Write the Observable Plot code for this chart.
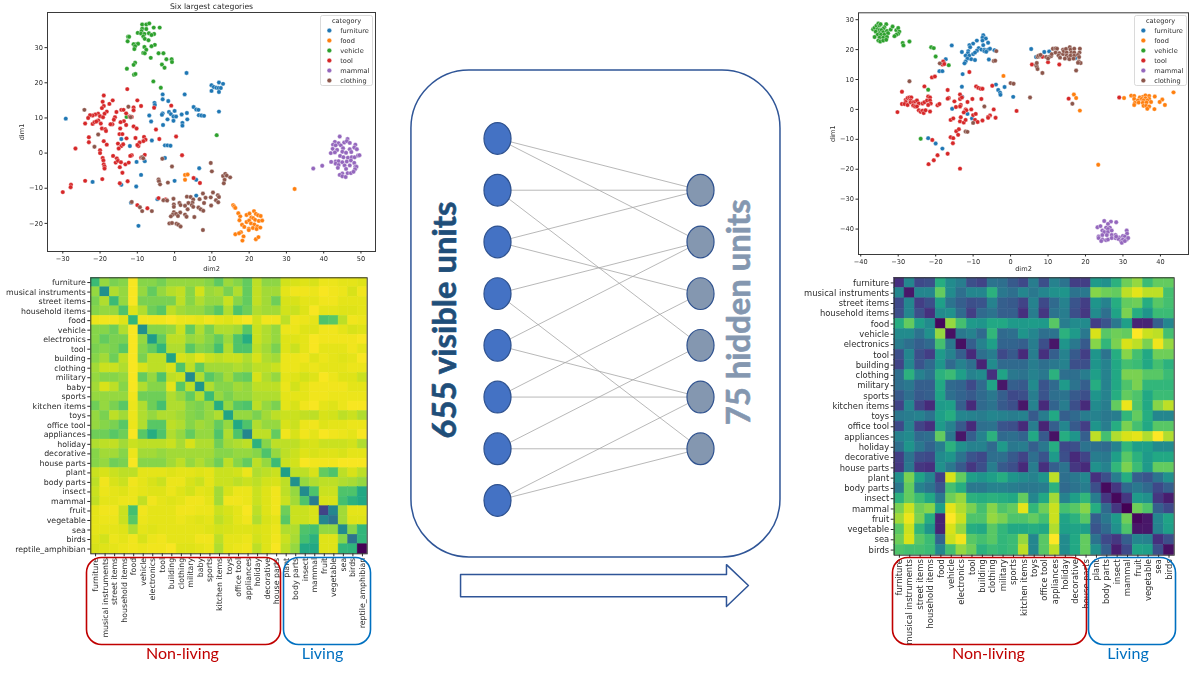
<!DOCTYPE html>
<html><head><meta charset="utf-8">
<style>
html,body{margin:0;padding:0;background:#fff;overflow:hidden}
#root{position:relative;width:1200px;height:673px;overflow:hidden}
#root svg{position:absolute;display:block;max-width:none}
.soft{filter:blur(.3px)}
</style>
<script src="https://cdn.jsdelivr.net/npm/d3@7"></script>
<script src="https://cdn.jsdelivr.net/npm/@observablehq/plot@0.6"></script>
</head><body><div id="root"></div>
<script>
const legendCats = ["furniture","food","vehicle","tool","mammal","clothing"];
const tab = ["#1f77b4","#ff7f0e","#2ca02c","#d62728","#9467bd","#8c564b"];

const leftFurniture=[[-29.2,9.8],[3.2,22.8],[2.7,16.7],[-3.2,16.7],[-3.2,15.3],[-1.7,14.8],[-5.4,14.3],[-5.3,13.7],[5.1,13.1],[5.8,12.4],[6.4,12.3],[11.9,11.8],[9.9,19.3],[10.5,18.8],[11.2,18.6],[11.8,18.5],[12.4,18.5],[11.9,20.1],[13,19.7],[9.9,17.7],[11.9,17.4],[0,12],[-1.5,11.7],[-1,11.1],[-3.2,11.3],[-3.4,10.9],[-.3,10.4],[.4,10.4],[-6.8,10.7],[1.9,11],[3.3,11.4],[3.4,9.6],[2.1,8.6],[2.1,7.8],[-.3,9.2],[-1.9,9.6],[-3.1,8],[-6.3,9],[6.5,10.8],[7.2,10.7],[7.9,10.6],[-6.1,3.6],[-14.3,4],[-12,2],[-2.6,2.2],[-1.9,2.2],[-1.1,2.1],[-2.6,-1.4],[-10.2,-2.5],[-8,-2.3],[-9,-6.2],[6.6,-4.3],[0,-7.9],[5.8,-7.6],[-10.3,-9.5],[-14.3,-9],[-22,-8.2],[-11.7,-14.1],[-4.6,-13.1],[5.8,-12.1],[-9.7,-20.7]];
const leftFood=[[2.8,-6.2],[3.5,-6.1],[2.8,-7.6],[32.2,-10.2],[15.7,-14.8],[16,-15.2],[16.3,-15.6],[17.1,-17.1],[17.6,-18],[19.3,-17.6],[20.1,-17.2],[21.3,-16.5],[21.8,-17.3],[22.4,-17.7],[23.1,-17.9],[20.6,-18.3],[21.1,-18.5],[21.6,-19],[22.6,-19.3],[23.5,-19.2],[17.4,-19.1],[18.1,-20.4],[19.3,-19.6],[20,-19.2],[20.5,-20],[21.4,-20.3],[22.2,-20.9],[18.7,-21],[19.9,-21.5],[21,-21.3],[22,-21.6],[23,-21.2],[17.8,-22.5],[18.5,-23.7],[16.3,-23.1],[17.3,-22.8],[18.2,-24.9],[21.8,-24.5],[22.5,-23.9],[19.9,-21.9]];
const leftVehicle=[[-8.7,36.6],[-7.6,36.6],[-6.8,36.9],[-8.7,35.4],[-7.6,35.3],[-5.6,35.7],[-4,35.7],[-8.9,34.7],[-9.9,34.2],[-9,34],[-8.1,33.9],[-6.9,34.1],[-5.5,33.9],[-6.2,33.6],[-8.4,33.2],[-8,32.5],[-7,32.1],[-12.5,33.1],[-12.2,33.1],[-12.6,31.8],[-10.3,31],[-11,31],[-9.8,31.1],[-10.6,30.4],[-8.1,30.2],[-5.3,30.8],[-6.2,30.4],[-7.6,29.4],[-10.8,29.6],[-8.4,28.5],[-8,28.4],[-6.4,27.1],[-4.3,28.4],[-3,28.4],[-2.2,26.7],[-.8,26.7],[-.7,25.9],[-3.4,25.2],[-2.7,24.3],[-12.8,24],[-10.6,25.7],[-11,25.1],[-10.9,22.3],[-10.5,22.5],[-5.7,20.4],[-3.7,18.6],[11.3,5.1],[-12.9,10.3]];
const leftTool=[[-12.7,18.2],[-19,16.4],[-19.3,14.6],[-17.5,14],[-16.6,15],[-10,15],[-19,13.4],[-11,13],[-11,12.2],[-9,13.4],[-5.5,12.9],[-.9,13.5],[-19.5,12.8],[-18.2,11.8],[-18.8,11.2],[-20.5,11.2],[-21.3,11],[-22,10.7],[-22.7,10.8],[-23.2,10],[-20,10.5],[-19.2,10.2],[-14.3,12.3],[-13.7,12.3],[-15.6,11.7],[-13,11.3],[-12,10.4],[-11.5,10.3],[-16,10.2],[-16.3,9.5],[-16.7,8.2],[-17.2,8.2],[-13.6,9.1],[-14.5,8.8],[-13,8],[-24,8.4],[-22,8.3],[-21.5,8.8],[-20.5,9.3],[-21,9],[-19.8,8.4],[-19.5,7],[-18.6,6.8],[-18.4,6.3],[-11,7.6],[-10.2,7],[-14.6,7],[-14.8,5.4],[-14,5.4],[-5,6.7],[.4,4.7],[-4.1,4],[-10.5,4.3],[-12.9,4.2],[-8.2,4.6],[-7.8,3.8],[-8.4,3.4],[-9.4,3],[-9.7,2],[-10,2.3],[-15.2,2.7],[-14.3,2],[-13.8,2.5],[-15,1.3],[-23,4.5],[-23,3.1],[-19,3.4],[-18.2,2.4],[-26.6,1.3],[-20,.8],[-20,0],[-19.3,-1.4],[-19.1,-2.1],[-19,-3.2],[-18.8,-3.8],[-18.8,-4.4],[-16.5,-.8],[-15.5,-1.5],[-15.8,-2.7],[-15.2,-2.2],[-14.4,-2.6],[-13.2,-3.2],[-12.3,-2.7],[-11.5,-.6],[-11.9,-.8],[-8,-.5],[-9,-1.3],[-14.7,-4],[-14,-5.6],[2,-.6],[-24,-7.9],[-19.4,-7.4],[-12.6,-8],[-14.7,-8.6],[5.1,-7.1],[6.8,-8.5],[-27.8,-9],[-27.9,-9.7],[-30,-11.1],[-10,-14.8],[-7.3,-15.7],[-4.3,-12.8],[-2.4,-13.2]];
const leftMammal=[[37.2,-4.4],[39.6,-3.6],[44.3,4.7],[46.4,4],[43,3.2],[44,2.8],[45.5,3],[46.2,3.4],[42.5,2.4],[43.2,2.2],[44.6,2.2],[47,2.9],[48.5,2.4],[42.4,1.2],[43.6,.9],[45.2,1.4],[47,1.1],[48.2,1.6],[48.9,1.1],[41.9,0],[43,.2],[45,.4],[46,.1],[47.4,.3],[44.4,-.8],[45.3,-1.2],[46.5,-1.3],[47.5,-1.2],[48.3,-1.2],[49.2,-.7],[49.6,-.6],[43.2,-2.4],[44,-2.3],[45,-2.6],[46.2,-2.4],[47.3,-2.1],[48.2,-2.8],[42,-2.5],[43.2,-3],[44,-3.4],[45.6,-3.5],[47,-3.5],[48.5,-3.8],[48.8,-3.9],[43.8,-4.2],[46,-4.5],[48.4,-4.6],[45,-5.8],[44.3,-6.2],[45,-6.6],[45.9,-6.8],[46.4,-5.7],[47.3,-5.7],[48,-5.3]];
const leftClothing=[[-24.2,12.3],[-12.4,13.2],[-11.8,10.2],[-20.5,5.3],[-21.5,1.8],[-8.7,-1.2],[-8.4,-1.5],[-3.3,-1.6],[-.7,-3.8],[9.7,-2.8],[10,-5.2],[13,-6.5],[13.6,-5.9],[14,-6.4],[14.9,-6.9],[13.4,-7.6],[13.2,-8.6],[-4.3,-7.5],[-4.2,-8],[-3.9,-8.9],[-1.8,-8.4],[-11.5,-13.9],[-9.3,-15.4],[-8.7,-16.5],[-6.1,-16.5],[-3,-13.4],[-2,-13.5],[-.3,-13],[3.3,-12.4],[4.3,-12.5],[7.6,-11.5],[10.3,-11.2],[11.6,-12],[11.9,-12.5],[9.7,-12.6],[8.3,-12.7],[6.7,-13.1],[5,-13.2],[4.8,-14.1],[3.7,-14.2],[1.3,-14.2],[1.6,-14.8],[-.2,-14.6],[-.2,-15.3],[2.8,-15],[4.6,-14.8],[11.1,-13.4],[11.7,-14],[9.8,-14.9],[7.9,-14.2],[6.4,-15.5],[5,-15.3],[3.5,-16],[2.8,-17.5],[1.5,-16.9],[-.2,-16.8],[-.5,-17.5],[-1,-18],[.4,-17.3],[7,-16],[7.7,-16.4],[5.3,-18.2],[3.2,-18.1],[.9,-17.9],[-1.4,-20],[-.7,-19.9],[.5,-20.1],[1,-20.4],[1.6,-20.9],[7.6,-21.9]];

const rightFurniture=[[-15.7,21.4],[5.5,20.2],[9,19.2],[10.3,19.4],[6.8,17.5],[17.3,17.2],[-17.3,16.8],[-17.8,15.8],[-19,12.8],[-18.2,12.8],[-12.8,11.8],[-13,7.6],[-12.9,4.2],[-15.6,.2],[-11.5,-1.5],[-10.3,-3],[-3.9,8.3],[-1.6,7.5],[-3.3,6.5],[-2.8,5.6],[-2.7,4.9],[.7,4.2],[-22,-9.6],[-20,-11.4],[-18.2,-13.1],[-7.3,24.8],[-7.5,24],[-6.6,23.7],[-7.5,23],[-9,23],[-10,22],[-11,21.5],[-6,22.3],[-10.8,20.8],[-7.3,21.5],[-8.5,20.5],[-7.8,20],[-7,20],[-6,20],[-5.5,20.3],[-4.3,19.8],[-9,19.6],[-13,19.2],[-11.3,19.5],[-11.4,18.8],[-7,19.5],[-6.5,19.3],[-12,18],[-11,18],[-10,18.5],[-9.5,19],[-11.5,17],[-10.5,16.8],[-9.5,16.5],[-12,16],[-12.3,15.4],[-5.8,16.7]];
const rightFood=[[43.5,5.7],[32.2,4.6],[33,4.5],[30.3,3.8],[35.3,4.2],[36,4.7],[37,4.5],[38.5,4.3],[34.5,4],[35,3.5],[36,3.7],[37,3.5],[33,3.5],[34,3],[35.5,3],[36.5,3],[40.5,3.3],[39.8,2.5],[33.2,2.2],[34.2,2.3],[35.3,2.2],[36.3,2.3],[37.5,2.5],[41.2,1.5],[33,1.5],[35.5,1.2],[36.2,1.2],[37,1],[36.5,.2],[38.4,.1],[-1.9,11.2],[16.9,5],[17.5,3.8],[18.5,-.4],[23.4,-18.5]];
const rightVehicle=[[-36.7,26.8],[-36.3,27.3],[-35.8,28],[-35.3,28.7],[-35,28],[-34.7,28.5],[-33.2,28.5],[-33.7,27.5],[-34,27],[-35.5,26.8],[-35,26.5],[-34.5,26.5],[-36,26],[-35,25.5],[-34,25.8],[-33,26.2],[-35.5,25],[-34.6,25],[-33.7,25],[-32.7,25.5],[-36.3,24.2],[-35,24],[-34,24],[-33,24.2],[-35.3,23],[-34.8,22.7],[-34,23],[-33.2,23.3],[-32,26.7],[-31.5,27.7],[-30.5,26.5],[-30,27.2],[-29.7,26],[-30,25.3],[-30.5,25],[-31,24.5],[-28.8,22.2],[-28.6,21.4],[-27,22.7],[-21.2,20.8],[-20.5,20.5],[-20,17.7],[-18,15.8],[-16.5,14.8],[-22,6.6],[-24,-9.8]];
const rightTool=[[-18,16],[-18.2,15],[-17.7,15.2],[-21,10.7],[-20.2,11],[-11,12.5],[-29,5.9],[-23,7.7],[-16.8,6.5],[-4.9,7.9],[-9.2,7.7],[-8.6,7.2],[-8,6.9],[-7.5,6.9],[-28,3.2],[-27.5,3.8],[-27,4],[-26.5,4],[-26.7,3],[-28,2.5],[-29,1.8],[-28.3,1.8],[-27.5,1.5],[-26.7,2.4],[-26,2.4],[-25.5,2.6],[-25,3],[-24.5,2],[-23.5,2],[-23,2.4],[-22.3,3],[-22,4.3],[-21.5,4],[-21.5,3],[-21.3,2],[-26,1.3],[-25.5,1],[-25,1],[-22,1.5],[-19.5,1.4],[-19,1.8],[-30.2,-.9],[-24.5,-.3],[-24,-.8],[-23.5,-.4],[-23.2,-1.2],[-22.7,-.3],[-21.5,-.7],[-16.5,3.8],[-16.8,3.6],[-15,2.7],[-13.5,3.5],[-13.5,5],[-13,4],[-11.5,2.5],[-10.2,3.5],[-7.8,3.5],[-13.3,1.5],[-13.5,1],[-14.6,.8],[-12,0],[-10.5,0],[-11.8,-.3],[-4.5,0],[-4,-2.8],[-5.5,-2],[-6,-2.5],[-6,-2.8],[1.6,-.5],[29,4],[15.5,3.6],[13,15],[5.7,15],[8.5,17.6],[10,15.8],[-16,-3.5],[-15.3,-3],[-13.3,-2.6],[-13.5,-4],[-12.5,-1],[-12.5,-4.4],[-10,-1.9],[-9.3,-1.5],[-9.5,-3.5],[-8.8,-4.2],[-7.5,-3.7],[-12,-3.5],[-14.5,-7.3],[-13.8,-6.6],[-14,-8.5],[-16,-9.3],[-15.3,-9.6],[-15.4,-11.3],[-16.8,-14.8],[-19.5,-15.3],[-20.5,-17],[-21.9,-18.3],[-20.9,-10.2],[-13.5,-19.8]];
const rightMammal=[[25,-37.3],[28.2,-37.7],[26.8,-37.5],[26,-38.3],[23.2,-39.4],[24,-39],[25.5,-39.5],[26.5,-39.5],[26,-40],[24.5,-40.5],[25,-41],[26,-41],[27,-40.5],[23.5,-42.5],[24.5,-42],[25.7,-42],[27,-42],[28,-42],[29,-42.8],[30,-42.3],[31,-40.5],[31.1,-41.5],[30.5,-42.5],[23.5,-43],[24.5,-43.5],[24.2,-44],[25.5,-43.7],[26,-43.5],[27,-43],[28,-43],[28.8,-43.3],[29.5,-44],[30,-43.5],[31,-43.5],[31.4,-43],[29.7,-44.6],[30.5,-44],[28.2,-42.5]];
const rightClothing=[[-27,9.4],[-18.9,15.4],[-4.5,16.2],[-4.1,16.3],[-3.8,19.5],[0,8.8],[.8,8.6],[-7,1],[5.2,4],[16.5,1.9],[-10,-4.5],[-12,-7.4],[-11.5,-7.5],[17.5,13],[8.5,12.2],[6.8,14.8],[7,14.3],[7.2,13.5],[7,15.5],[7.5,17.7],[7.2,17.6],[7.5,18],[8,18.2],[9.5,17.5],[10.3,17.5],[10.8,17.8],[10,17],[11,18.5],[11.3,20.3],[12,20.4],[12.4,20.3],[12,19],[13,18.8],[12.8,18],[13.2,17.3],[14,18.5],[14,20],[14.2,19.5],[14.8,20.2],[15,19],[15,18],[14.5,17],[15.5,17.5],[15.8,20.8],[16,20],[16.2,19],[16,18],[15.7,16.8],[17,20.3],[17,19],[17,18],[16.8,17],[18.5,20.3],[18.4,19],[18,18.2],[18.3,17.5],[18.2,16],[18.7,15.5],[18,15.6]];

const leftCats=["furniture","musical instruments","street items","household items","food","vehicle","electronics","tool","building","clothing","military","baby","sports","kitchen items","toys","office tool","appliances","holiday","decorative","house parts","plant","body parts","insect","mammal","fruit","vegetable","sea","birds","reptile_amphibian"];
const rightCats=leftCats.filter(c=>c!=="baby"&&c!=="reptile_amphibian");

const leftMatrix=[
[68,84,80,82,99,82,82,79,84,84,84,84,82,75,85,82,76,90,83,83,93,94,95,94,97,97,96,96,95],
[84,50,88,84,99,84,76,84,89,91,82,93,85,87,80,88,76,91,86,86,96,98,98,97,99,98,97,94,98],
[80,88,68,84,99,80,80,80,80,90,82,88,84,84,92,82,76,91,86,78,94,94,96,96,98,98,96,96,96],
[82,84,84,72,95,88,78,74,90,86,84,84,80,74,88,72,78,88,86,86,93,92,95,99,96,96,95,95,96],
[97,98,98,95,66,98,98,98,99,97,97,96,98,96,95,97,99,93,98,98,90,98,97,96,72,74,90,98,97],
[82,82,78,88,99,50,82,82,84,92,76,88,80,88,88,86,74,92,88,84,97,97,95,95,98,98,96,94,95],
[82,76,80,80,99,84,55,76,90,90,84,86,82,76,85,72,62,92,88,84,95,95,96,99,98,98,98,98,99],
[80,82,80,74,99,82,76,66,88,88,74,82,80,70,88,72,72,90,86,80,95,92,96,99,96,96,96,98,96],
[82,86,78,90,99,80,90,90,58,94,92,96,92,90,92,92,88,94,88,86,97,97,98,95,97,96,95,96,99],
[86,92,92,88,99,94,90,90,94,72,90,76,86,86,86,88,86,90,90,92,97,97,96,97,96,96,96,97,97],
[84,82,82,84,99,76,84,72,90,92,48,88,74,80,86,78,76,94,88,84,96,95,93,95,99,97,95,95,92],
[86,94,90,82,99,88,82,82,96,74,90,52,88,82,82,86,84,90,90,90,97,93,96,98,98,98,98,96,96],
[84,84,84,84,98,78,78,78,88,84,76,88,68,84,80,84,84,88,88,88,96,96,96,98,98,97,97,97,97],
[78,84,80,74,97,88,78,70,88,88,82,80,84,62,84,74,72,90,84,80,96,94,98,99,96,95,97,99,99],
[84,80,90,86,97,88,84,88,88,86,82,80,84,88,58,84,84,80,86,90,92,92,91,90,94,93,90,92,88],
[84,82,80,74,97,88,74,74,90,88,82,86,84,76,84,60,72,88,84,84,94,92,97,98,95,96,96,97,97],
[78,78,74,78,99,74,62,72,88,84,76,84,84,72,88,72,46,90,90,76,98,94,98,96,99,98,97,96,99],
[88,90,91,86,92,90,90,90,92,87,94,88,88,78,86,88,90,64,82,90,90,90,93,94,92,92,92,93,88],
[82,86,86,82,97,86,86,84,86,86,86,86,86,82,82,84,84,82,72,84,90,92,95,94,95,95,94,96,96],
[82,84,78,80,99,82,82,82,86,90,84,88,84,78,90,82,76,90,84,68,92,93,99,98,98,98,99,99,99],
[92,94,92,90,90,96,96,96,95,96,96,95,96,92,92,93,97,88,90,92,56,90,90,94,76,72,90,94,90],
[90,98,94,92,98,96,94,92,97,97,94,92,96,92,92,90,92,90,93,94,90,50,84,88,90,90,88,87,84],
[92,97,96,95,97,96,95,95,97,95,93,96,95,86,94,97,97,92,95,98,90,84,48,72,92,92,72,72,60],
[91,96,96,97,97,91,98,96,95,96,98,98,96,86,98,98,97,92,95,98,92,86,72,42,94,94,70,64,60],
[96,98,98,92,70,98,96,96,96,98,98,97,97,92,94,96,99,90,95,98,78,92,92,94,20,46,86,96,96],
[96,97,97,92,74,97,96,96,96,97,96,95,96,90,93,96,98,88,94,96,74,92,92,94,46,38,86,95,95],
[96,96,96,95,88,96,95,96,96,96,96,96,95,93,94,95,95,94,95,97,88,88,72,70,84,84,48,82,66],
[95,93,97,96,98,94,97,98,96,96,96,98,98,90,96,96,97,93,95,98,92,87,70,64,95,95,82,38,66],
[94,95,96,97,98,97,98,98,99,95,95,96,97,88,96,97,98,90,95,99,90,84,60,60,95,95,66,65,0]];

const rightMatrix=[
[14,46,22,24,62,48,42,24,20,38,36,28,22,42,24,44,38,18,18,54,50,64,78,84,68,76,76],
[46,6,46,46,76,48,36,46,46,64,40,36,46,40,46,50,52,38,40,82,78,76,90,96,90,90,70],
[22,46,18,24,56,38,30,24,26,44,30,28,20,44,22,34,44,26,18,52,44,62,76,78,62,74,70],
[24,46,24,14,48,50,34,18,34,38,30,30,14,42,16,38,42,24,16,48,36,58,80,62,52,68,68],
[62,76,56,48,2,84,70,54,52,60,60,54,54,55,54,74,42,48,48,18,26,40,56,10,10,30,46],
[48,48,38,50,84,4,40,44,34,66,34,36,52,46,36,38,64,54,40,94,74,78,76,100,92,90,70],
[42,36,30,34,70,40,4,30,44,56,32,32,30,42,24,6,52,40,28,82,66,80,94,90,80,98,84],
[24,46,24,18,54,44,30,12,36,42,22,28,12,42,14,30,44,28,18,52,38,62,82,70,60,78,78],
[20,46,26,34,52,34,44,36,10,48,34,34,34,42,36,40,44,24,24,52,44,60,70,68,60,70,64],
[36,64,44,38,64,68,56,44,48,14,58,40,38,44,40,64,36,36,42,56,44,60,80,80,74,74,68],
[36,40,30,30,60,34,32,22,34,58,6,30,28,48,26,34,54,38,30,62,44,60,72,80,66,66,66],
[28,36,28,30,58,36,32,28,34,40,30,22,24,42,26,36,38,28,24,52,44,62,76,72,60,68,68],
[20,46,20,12,54,56,30,12,34,38,28,24,6,44,12,32,42,24,12,48,42,76,97,72,60,82,90],
[40,42,44,38,56,62,46,44,42,46,44,42,44,28,42,60,30,34,42,44,40,42,66,76,62,46,46],
[22,44,20,14,54,44,28,12,36,38,26,24,12,42,10,30,46,28,18,52,42,62,80,70,60,74,74],
[44,48,34,36,76,40,6,30,44,64,34,36,32,60,28,5,62,52,30,90,70,88,94,96,88,100,88],
[36,52,40,32,42,64,50,44,44,34,54,40,42,30,40,62,22,24,38,36,34,44,66,56,56,48,48],
[18,38,24,22,48,52,38,26,22,36,36,28,20,36,26,54,24,12,20,42,40,56,74,64,54,60,60],
[16,40,16,14,50,40,28,16,24,42,28,24,12,42,14,30,38,16,12,50,44,66,80,68,54,76,76],
[50,80,58,46,18,94,76,56,52,56,62,52,48,44,52,90,36,40,46,14,24,42,62,30,26,38,50],
[40,76,44,38,26,70,62,40,40,44,44,42,40,40,42,64,34,38,42,24,3,16,34,40,34,22,30],
[64,76,68,60,40,78,84,64,62,64,62,60,76,46,60,86,44,56,66,42,16,2,16,54,50,16,8],
[80,92,78,82,56,96,88,80,70,82,72,76,96,66,78,92,70,74,82,62,34,16,0,78,72,30,22],
[86,97,80,62,10,100,92,72,72,84,80,72,72,76,70,92,58,64,74,30,40,54,78,2,6,46,58],
[74,92,66,52,10,94,84,62,60,74,66,60,60,62,60,88,56,58,56,26,34,50,72,6,6,44,56],
[78,94,74,68,32,92,98,74,70,74,66,68,84,46,74,100,48,60,76,38,22,16,30,46,44,14,24],
[72,70,70,68,46,70,84,78,64,68,66,68,90,46,74,90,48,60,76,50,30,8,22,58,56,24,4]];

const visibleUnits=[0,1,2,3,4,5,6,7];
const hiddenUnits=[1,2,3,4,5,6];
const edges=[[0,1],[0,2],[1,1],[1,4],[2,1],[2,3],[3,2],[3,6],[4,2],[4,5],[5,3],[5,5],[6,4],[6,6],[7,5],[7,6]];

const root=document.getElementById("root");
const ink="#2b2b2b";
function place(chart,left,top,soft=true){
  chart.style.left=left+"px";chart.style.top=top+"px";
  if(soft)chart.classList.add("soft");
  root.appendChild(chart);
}
const baseStyle=(fs,font="'DejaVu Sans',sans-serif")=>({background:"transparent",overflow:"visible",fontFamily:font,fontSize:fs+"px",color:ink});

function scatter(groups,o){
  const rows=groups.flatMap((g,i)=>g.map(([x,y])=>({x,y,c:legendCats[i]})));
  const marks=[
    Plot.dot(rows,{x:"x",y:"y",fill:"c",stroke:"white",strokeWidth:.35,r:2.2}),
    Plot.frame({stroke:"#3a3a3a",strokeWidth:1}),
    Plot.axisX({ticks:o.xTicks,tickSize:2.5,tickPadding:2,label:"dim2",labelAnchor:"center",labelOffset:o.xLabelOffset,labelArrow:"none",fontSize:o.fs}),
    Plot.axisY({ticks:o.yTicks,tickSize:2.5,tickPadding:2,label:"dim1",labelAnchor:"center",labelOffset:o.labelOffset,labelArrow:"none",fontSize:o.fs})
  ];
  if(o.title)marks.push(Plot.text([o.title],{frameAnchor:"top",dy:-9,fontSize:7.7,fill:ink}));
  return Plot.plot({width:o.w,height:o.h,marginLeft:o.ml,marginRight:o.mr,marginTop:o.mt,marginBottom:o.mb,
    style:baseStyle(o.fs),
    x:{domain:o.xd},y:{domain:o.yd},
    color:{domain:legendCats,range:tab},marks});
}
function legendBox(){
  const names=["category",...legendCats];
  return Plot.plot({width:52,height:70,margin:0,style:baseStyle(6.6),
    x:{domain:[0,1],axis:null},y:{domain:names,type:"point",padding:.5,axis:null},
    color:{domain:legendCats,range:tab},
    marks:[
      Plot.frame({stroke:"#d0d0d0",fill:"white",strokeWidth:.8,rx:2}),
      Plot.text(["category"],{x:()=>.5,y:d=>d,fontSize:6.6,fill:ink}),
      Plot.dot(legendCats,{x:()=>.17,y:d=>d,fill:d=>d,r:2.3,stroke:"white",strokeWidth:.3}),
      Plot.text(legendCats,{x:()=>.38,y:d=>d,textAnchor:"start",fontSize:6.6,fill:ink})
    ]});
}
function heat(cats,matrix,o){
  const rows=matrix.flatMap((r,i)=>r.map((v,j)=>({x:cats[j],y:cats[i],v})));
  return Plot.plot({width:o.w,height:o.h,marginLeft:o.ml,marginRight:o.mr,marginTop:o.mt,marginBottom:o.mb,
    style:baseStyle(o.fs),
    x:{domain:cats,padding:0,round:false,label:null},y:{domain:cats,padding:0,round:false,label:null},
    color:{type:"linear",scheme:"viridis",domain:[0,100]},
    marks:[
      Plot.cell(rows,{x:"x",y:"y",fill:"v",stroke:"v",strokeWidth:.5}),
      Plot.frame({stroke:"#333",strokeWidth:1}),
      Plot.axisX({tickRotate:-90,tickSize:3,tickPadding:1,fontSize:o.fs,label:null}),
      Plot.axisY({tickSize:3,tickPadding:2,fontSize:o.fs,label:null})
    ]});
}
function groupBox(label,colour,w,dx){
  return Plot.plot({width:w,height:112,marginTop:1,marginLeft:1,marginRight:1,marginBottom:24,
    style:baseStyle(16,"Lato,sans-serif"),
    x:{domain:[0,1],axis:null},y:{domain:[0,1],axis:null},
    marks:[
      Plot.frame({stroke:colour,strokeWidth:1.6,rx:15}),
      Plot.text([label],{frameAnchor:"bottom",dy:9,dx,lineAnchor:"middle",fontSize:16,fill:colour,fontFamily:"Lato,sans-serif"})
    ]});
}

place(scatter([leftFurniture,leftFood,leftVehicle,leftTool,leftMammal,leftClothing],
 {w:380,h:276,ml:47,mr:5,mt:12,mb:25,xd:[-34.1,53.9],yd:[-28,40],xTicks:[-30,-20,-10,0,10,20,30,40,50],yTicks:[-20,-10,0,10,20,30],fs:6.6,labelOffset:28,xLabelOffset:19,title:"Six largest categories"}),0,0);
place(legendBox(),320,15);
place(scatter([rightFurniture,rightFood,rightVehicle,rightTool,rightMammal,rightClothing],
 {w:392,h:279,ml:58,mr:4,mt:12.3,mb:25,xd:[-40.6,47.5],yd:[-48.5,32.3],xTicks:[-40,-30,-20,-10,0,10,20,30,40],yTicks:[-40,-30,-20,-10,0,10,20,30],fs:6.6,labelOffset:28,xLabelOffset:16}),800,0);
place(legendBox(),1133.5,15);

place(heat(leftCats,leftMatrix,{w:372,h:400,ml:90.3,mr:5.3,mt:7.3,mb:116.7,fs:7.85}),0,270);
place(heat(rightCats,rightMatrix,{w:380,h:400,ml:93.7,mr:6.3,mt:7.3,mb:115.3,fs:8.4}),800,270);

place(groupBox("Non-living","#c00000",196,-1),85,556);
place(groupBox("Living","#0070c0",89,-4.5),282,556);
place(groupBox("Non-living","#c00000",196,-1),891,556);
place(groupBox("Living","#0070c0",89,-4),1087,556);

const ellipse={draw(c,size){const r=Math.sqrt(size/Math.PI),a=r*.92,b=r*1.08,k=.5523;
  c.moveTo(a,0);c.bezierCurveTo(a,k*b,k*a,b,0,b);c.bezierCurveTo(-k*a,b,-a,k*b,-a,0);
  c.bezierCurveTo(-a,-k*b,-k*a,-b,0,-b);c.bezierCurveTo(k*a,-b,a,-k*b,a,0);c.closePath();}};
const arrowShape=[[-.182,8.43],[1.128,8.43],[1.128,8.24],[1.236,8.645],[1.128,9.05],[1.128,8.86],[-.182,8.86],[-.182,8.43]];
const panelBlue="#2f5597";
place(Plot.plot({width:1200,height:673,margin:0,style:baseStyle(33,"Lato,sans-serif"),
  x:{domain:[0,1],range:[497,700],axis:null},y:{domain:[0,7],range:[138,500],axis:null},
  marks:[
    Plot.rect([0],{x1:()=>-.424,x2:()=>1.394,y1:()=>-1.315,y2:()=>8.1,rx:58,fill:"none",stroke:panelBlue,strokeWidth:1.5}),
    Plot.link(edges,{x1:()=>0,y1:d=>d[0],x2:()=>1,y2:d=>d[1],stroke:"#a6a6a6",strokeWidth:.8}),
    Plot.dot(visibleUnits,{x:()=>0,y:d=>d,r:14.7,symbol:ellipse,fill:"#4472c4",stroke:"#2f528f",strokeWidth:1.2}),
    Plot.dot(hiddenUnits,{x:()=>1,y:d=>d,r:14.7,symbol:ellipse,fill:"#8497b0",stroke:"#2f528f",strokeWidth:1.2}),
    Plot.text(["655 visible units"],{x:()=>-.256,y:()=>3.51,rotate:-90,fontSize:32.8,fontWeight:700,fill:"#1f4e79",stroke:"#1f4e79",strokeWidth:.6,fontFamily:"Lato,sans-serif"}),
    Plot.text(["75 hidden units"],{x:()=>1.19,y:()=>3.36,rotate:-90,fontSize:32.8,fontWeight:700,fill:"#8497b0",stroke:"#8497b0",strokeWidth:.6,fontFamily:"Lato,sans-serif"}),
    Plot.line(arrowShape,{x:d=>d[0],y:d=>d[1],stroke:panelBlue,strokeWidth:1.5,curve:"linear"})
  ]}),0,0,false);
</script></body></html>
